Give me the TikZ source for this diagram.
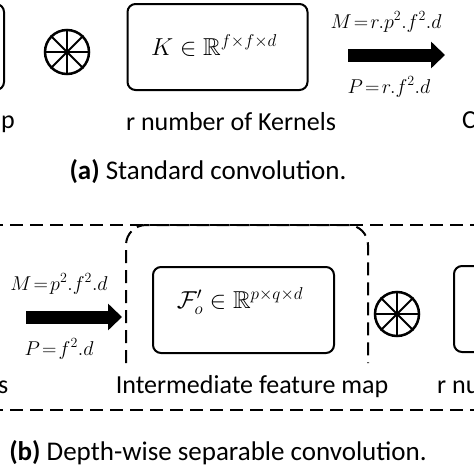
\RequirePackage{fix-cm}
\documentclass[tikz,border=0pt]{standalone}
\usepackage{fontspec}
\setmainfont{Carlito}
\usepackage{amsmath,amssymb}
\usetikzlibrary{arrows.meta}
\begin{document}
\begin{tikzpicture}[x=1pt,y=-1pt,
  box/.style={draw,line width=2pt,rounded corners=8pt,inner sep=0pt},
  lbl/.style={font=\fontsize{26}{30}\selectfont,inner sep=0pt},
  eq/.style={font=\fontsize{20}{24}\selectfont,inner sep=0pt},
  boxmath/.style={font=\fontsize{24.5}{29}\selectfont,inner sep=0pt},
  captxt/.style={font=\fontsize{27}{32}\selectfont,inner sep=0pt},
  fat/.style={line width=13pt,-{Triangle[width=26pt,length=14pt]}},
  dsh/.style={line width=2pt,dash pattern=on 13pt off 7pt},
  wheel/.style={circle,draw,line width=2.5pt,minimum size=44pt,inner sep=0pt},
  spoke/.style={line width=2pt}]
\useasboundingbox (0,0) rectangle (474,474);
\begin{scope}
\clip (0,0) rectangle (474,474);
% ---- (a) standard convolution ----
\node[box,minimum width=100pt,minimum height=86pt] (In) at (-46,47) {};
\node[lbl,anchor=base east] (Inl) at (15,128) {p};
\node[wheel] (c1) at (67,52) {};
\foreach \a/\b in {0/180,45/225,90/270,135/315}
  \draw[spoke] (c1.\a) -- (c1.\b);
\node[box,minimum width=180pt,minimum height=86pt] (K) at (217.5,47) {};
\node[boxmath,anchor=base] (Kt) at (214,55)
  {$K\in\mathbb{R}^{f\times f\times d}$};
\node[lbl] (Kl) at (231,122) {r number of Kernels};
\coordinate (a1s) at (348,55);
\coordinate (a1e) at (445,55);
\draw[fat] (a1s) -- (a1e);
\node[eq,anchor=base] (M1) at (386,28) {$M\!=\!r.p^2.f^2.d$};
\node[eq,anchor=base] (P1) at (389,93) {$P\!=\!r.f^2.d$};
\node[lbl,anchor=base west] (Ol) at (462,128) {C};
\node[captxt] (capa) at (208,172) {{\bfseries (a)} Standard convolution.};
% ---- (b) depth-wise separable ----
\draw[dsh] (-10,225) -- (484,225);
\draw[dsh] (-10,410) -- (484,410);
\draw[dsh,rounded corners=20pt] (126,363) -- (126,225) -- (368,225) -- (368,363);
\coordinate (a2s) at (26,317);
\coordinate (a2e) at (122,317);
\draw[fat] (a2s) -- (a2e);
\node[eq,anchor=base] (M2) at (59,290) {$M\!=\!p^2.f^2.d$};
\node[eq,anchor=base] (P2) at (59,355) {$P\!=\!f^2.d$};
\node[lbl,anchor=base west] (Kl2) at (-2,393) {s};
\node[box,minimum width=181pt,minimum height=86pt] (F) at (243.5,310) {};
\node[boxmath,anchor=base] (Ft) at (240,308)
  {$\mathcal{F}'_o\in\mathbb{R}^{p\times q\times d}$};
\node[lbl] (Fl) at (252,387) {Intermediate feature map};
\node[wheel] (c2) at (397,314) {};
\foreach \a/\b in {0/180,45/225,90/270,135/315}
  \draw[spoke] (c2.\a) -- (c2.\b);
\node[box,minimum width=100pt,minimum height=86pt] (P) at (504,309) {};
\node[lbl,anchor=base west] (Pl) at (437,393) {r nu};
\node[captxt] (capb) at (218,453) {{\bfseries (b)} Depth-wise separable convolution.};
\end{scope}
\end{tikzpicture}
\end{document}
